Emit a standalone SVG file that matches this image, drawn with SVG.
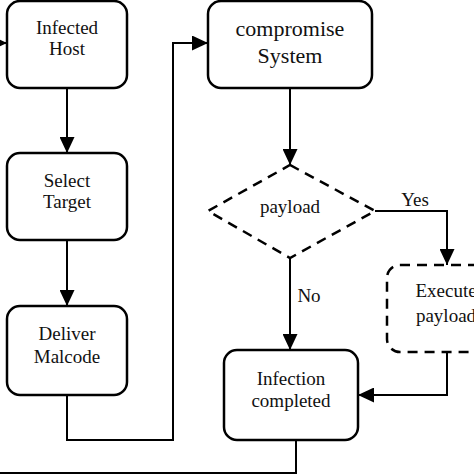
<svg xmlns="http://www.w3.org/2000/svg" width="474" height="474" viewBox="0 0 474 474">
<defs>
<marker id="arr" markerUnits="userSpaceOnUse" markerWidth="16" markerHeight="15" refX="16" refY="7.5" orient="auto">
<path d="M0,0 L16,7.5 L0,15 z" fill="#000"/>
</marker>
<style>
.box{fill:#fff;stroke:#000;stroke-width:2.5}
.dash{fill:#fff;stroke:#000;stroke-width:2.5;stroke-dasharray:10 7}
.c{fill:none;stroke:#000;stroke-width:2}
text{font-family:'Times New Roman','Liberation Serif','DejaVu Serif',serif;font-size:19px;fill:#111;text-anchor:middle}
.big{font-size:22px}
</style>
</defs>
<rect width="474" height="474" fill="#fff"/>
<g id="connectors">
<path class="c" d="M67,88 V153" marker-end="url(#arr)"/>
<path class="c" d="M67,240 V306" marker-end="url(#arr)"/>
<path class="c" d="M67,395 V440 H173 V43 H208" marker-end="url(#arr)"/>
<path class="c" d="M290,88 V165" marker-end="url(#arr)"/>
<path class="c" d="M375,211 H447 V265" marker-end="url(#arr)"/>
<path class="c" d="M290,258 V350" marker-end="url(#arr)"/>
<path class="c" d="M447,352 V395 H358" marker-end="url(#arr)"/>
<path class="c" d="M296,440 V473 H-5" stroke="#666"/>
<path class="c" d="M-20,43 H7" marker-end="url(#arr)"/>
<text x="415" y="206">Yes</text>
<text x="309" y="302">No</text>
</g>
<g id="infected-host">
<rect class="box" x="7" y="1" width="120" height="87" rx="13"/>
<text x="67" y="34">Infected</text>
<text x="67" y="55">Host</text>
</g>
<g id="select-target">
<rect class="box" x="7" y="153" width="120" height="87" rx="13"/>
<text x="67" y="187">Select</text>
<text x="67" y="208">Target</text>
</g>
<g id="deliver-malcode">
<rect class="box" x="7" y="306" width="120" height="89" rx="13"/>
<text x="67" y="340">Deliver</text>
<text x="67" y="363">Malcode</text>
</g>
<g id="compromise-system">
<rect class="box" x="208" y="1" width="164" height="87" rx="13"/>
<text class="big" x="290" y="36">compromise</text>
<text class="big" x="290" y="63">System</text>
</g>
<g id="payload">
<path class="dash" d="M290,165 L375,211 L290,258 L208,211 Z"/>
<text x="290" y="213">payload</text>
</g>
<g id="execute-payload">
<rect class="dash" x="387" y="265" width="120" height="87" rx="13"/>
<text x="446" y="297">Execute</text>
<text x="446" y="322">payload</text>
</g>
<g id="infection-completed">
<rect class="box" x="224" y="350" width="134" height="90" rx="13"/>
<text x="291" y="385">Infection</text>
<text x="291" y="407">completed</text>
</g>
</svg>
